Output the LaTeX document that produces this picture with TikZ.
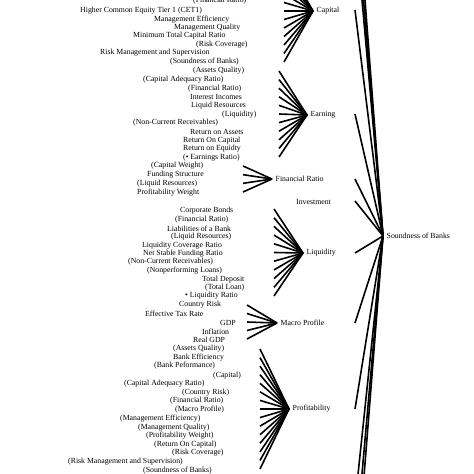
\documentclass[tikz,border=0pt]{standalone}
\usepackage{fontspec}
\setmainfont{Liberation Serif}
\begin{document}
\begin{tikzpicture}[x=1pt,y=-1pt,
  leaf/.style={anchor=west, inner sep=0pt, font=\fontsize{7.8}{9}\selectfont},
  cat/.style={anchor=west, inner sep=3.5pt, font=\fontsize{7.8}{9}\selectfont},
  fan/.style={line width=1.6pt, black},
  trunk/.style={line width=1.6pt, black}]
\useasboundingbox (0,0) rectangle (474,474);
\clip (0,0) rectangle (474,474);

% category nodes
\node[cat] (capital) at (313,11) {Capital};
\node[cat] (earning) at (307,115) {Earning};
\node[cat] (finratio) at (272,179) {Financial Ratio};
\node[leaf] (investment) at (296,202) {Investment};
\node[cat] (liquidity) at (303,253) {Liquidity};
\node[cat] (macro) at (277,323) {Macro Profile};
\node[cat] (profit) at (289,409) {Profitability};
\node[cat] (sob) at (383,236) {Soundness of Banks};

% Capital leaves
\node[leaf] (a1) at (193,1) {(Financial Ratio)};
\node[leaf] (a2) at (80,11) {Higher Common Equity Tier 1 (CET1)};
\node[leaf] (a3) at (154,20) {Management Efficiency};
\node[leaf] (a4) at (174,27.5) {Management Quality};
\node[leaf] (a5) at (133,36) {Minimum Total Capital Ratio};
\node[leaf] (a6) at (196,44.5) {(Risk Coverage)};
\node[leaf] (a7) at (100,53) {Risk Management and Supervision};
\node[leaf] (a8) at (170,62) {(Soundness of Banks)};

% Earning leaves
\node[leaf] (b1) at (193,71) {(Assets Quality)};
\node[leaf] (b2) at (143,80) {(Capital Adequacy Ratio)};
\node[leaf] (b3) at (188,88.5) {(Financial Ratio)};
\node[leaf] (b4) at (190,97) {Interest Incomes};
\node[leaf] (b5) at (191,105.5) {Liquid Resources};
\node[leaf] (b6) at (222,114.5) {(Liquidity)};
\node[leaf] (b7) at (133,123) {(Non-Current Receivables)};
\node[leaf] (b8) at (190,132) {Return on Assets};
\node[leaf] (b9) at (183,140.5) {Return On Capital};
\node[leaf] (b10) at (183,149) {Return on Equidty};
\node[leaf] (b11) at (183,157.5) {(• Earnings Ratio)};

% Financial Ratio leaves
\node[leaf] (c1) at (151,166) {(Capital Weight)};
\node[leaf] (c2) at (147,175) {Funding Structure};
\node[leaf] (c3) at (137,184) {(Liquid Resources)};
\node[leaf] (c4) at (137,193) {Profitability Weight};

% Liquidity leaves
\node[leaf] (d1) at (180,211) {Corporate Bonds};
\node[leaf] (d2) at (175,220) {(Financial Ratio)};
\node[leaf] (d3) at (167,228.5) {Liabilities of a Bank};
\node[leaf] (d4) at (171,237) {(Liquid Resources)};
\node[leaf] (d5) at (142,245.5) {Liquidity Coverage Ratio};
\node[leaf] (d6) at (143,253.5) {Net Stable Funding Ratio};
\node[leaf] (d7) at (128,262) {(Non-Current Receivables)};
\node[leaf] (d8) at (147,271) {(Nonperforming Loans)};
\node[leaf] (d9) at (202,279.5) {Total Deposit};
\node[leaf] (d10) at (205,288) {(Total Loan)};
\node[leaf] (d11) at (185,296) {• Liquidity Ratio};

% Macro Profile leaves
\node[leaf] (e1) at (179,305) {Country Risk};
\node[leaf] (e2) at (145,314) {Effective Tax Rate};
\node[leaf] (e3) at (220,323) {GDP};
\node[leaf] (e4) at (202,331.5) {Inflation};
\node[leaf] (e5) at (193,340) {Real GDP};

% Profitability leaves
\node[leaf] (f1) at (173,349) {(Assets Quality)};
\node[leaf] (f2) at (173,357.5) {Bank Efficiency};
\node[leaf] (f3) at (154,366) {(Bank Peformance)};
\node[leaf] (f4) at (213,375.5) {(Capital)};
\node[leaf] (f5) at (124,384) {(Capital Adequacy Ratio)};
\node[leaf] (f6) at (182,392.5) {(Country Risk)};
\node[leaf] (f7) at (170,401) {(Financial Ratio)};
\node[leaf] (f8) at (175,409.5) {(Macro Profile)};
\node[leaf] (f9) at (120,418.5) {(Management Efficiency)};
\node[leaf] (f10) at (138,427.5) {(Management Quality)};
\node[leaf] (f11) at (146,436) {(Profitability Weight)};
\node[leaf] (f12) at (154,444.5) {(Return On Capital)};
\node[leaf] (f13) at (172,453) {(Risk Coverage)};
\node[leaf] (f14) at (68,462) {(Risk Management and Supervision)};
\node[leaf] (f15) at (143,471) {(Soundness of Banks)};

% fans
\foreach \i [evaluate=\i as \yy using 62-8.5*\i] in {0,...,12} {
  \coordinate (capf\i) at (284,\yy);
  \draw[fan] (capf\i) -- (capital.west);
}
\foreach \i [evaluate=\i as \yy using 71+8.6*\i] in {0,...,10} {
  \coordinate (earf\i) at (279,\yy);
  \draw[fan] (earf\i) -- (earning.west);
}
\foreach \i [evaluate=\i as \yy using 166+8.67*\i] in {0,...,3} {
  \coordinate (finf\i) at (243,\yy);
  \draw[fan] (finf\i) -- (finratio.west);
}
\foreach \i [evaluate=\i as \yy using 209+8.7*\i] in {0,...,10} {
  \coordinate (liqf\i) at (274,\yy);
  \draw[fan] (liqf\i) -- (liquidity.west);
}
\foreach \i [evaluate=\i as \yy using 305+8.5*\i] in {0,...,4} {
  \coordinate (macf\i) at (247,\yy);
  \draw[fan] (macf\i) -- (macro.west);
}
\foreach \i [evaluate=\i as \yy using 349+8.57*\i] in {0,...,14} {
  \coordinate (prof\i) at (260,\yy);
  \draw[fan] (prof\i) -- (profit.west);
}

% trunk lines into Soundness of Banks
\foreach \n/\yy in {t1/-131, t2/-103, t3/-79, capo/10, earo/114, fino/179, invo/201, liqo/253, maco/323, proo/409, t4/503, t5/553, t6/590} {
  \coordinate (\n) at (355,\yy);
  \draw[trunk] (\n) -- (sob.west);
}
\end{tikzpicture}
\end{document}
